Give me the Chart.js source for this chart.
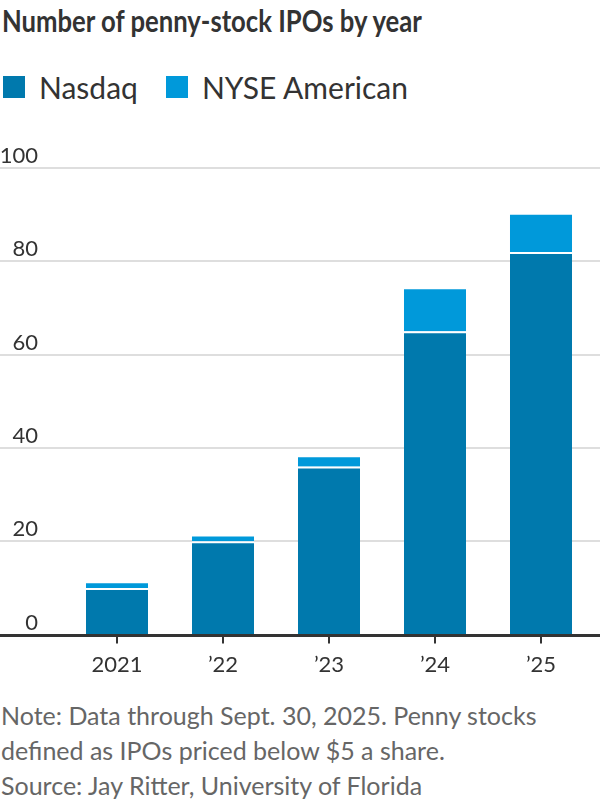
<!DOCTYPE html>
<html>
<head>
<meta charset="utf-8">
<script src="https://cdn.jsdelivr.net/npm/chart.js@4"></script>
<style>
  html, body { margin: 0; padding: 0; background: #fff; }
  body { width: 600px; height: 800px; position: relative; overflow: hidden; font-family: Lato, "Noto Sans", sans-serif; color: #333; }
  .title { position: absolute; left: 2px; top: 2px; font-family: Lato, "Noto Sans", sans-serif; font-weight: bold; font-size: 30px; line-height: 36px; color: #333; white-space: nowrap; transform-origin: left top; }
  .legend { position: absolute; left: 3px; top: 70px; display: flex; align-items: center; height: 34px; font-size: 30px; color: #333; }
  .legend .sw { width: 22px; height: 22px; margin-right: 14px; }
  .legend .item { display: flex; align-items: center; margin-right: 28px; }
  .chartbox { position: absolute; left: 0; top: 120px; width: 600px; height: 568px; }
  .note { position: absolute; left: 1px; top: 698px; font-size: 25px; line-height: 35px; color: #666; }
</style>
</head>
<body>
<div class="title" id="title">Number of penny-stock IPOs by year</div>
<div class="legend">
  <div class="item"><span class="sw" style="background:#0079ad"></span>Nasdaq</div>
  <div class="item"><span class="sw" style="background:#0099da"></span>NYSE American</div>
</div>
<div class="chartbox"><canvas id="ipoChart" width="600" height="568"></canvas></div>
<div class="note">Note: Data through Sept. 30, 2025. Penny stocks<br>defined as IPOs priced below $5 a share.<br>Source: Jay Ritter, University of Florida</div>

<script>
// Chart data
const years = ['2021', '\u201922', '\u201923', '\u201924', '\u201925'];
const nasdaq = [10, 20, 36, 65, 82];
const nyseAmerican = [1, 1, 2, 9, 8];
const yTicks = [0, 20, 40, 60, 80, 100];

// the original headline face is condensed, squeeze Lato bold to the same width
const titleEl = document.getElementById('title');
titleEl.style.transform = 'scaleX(' + (420 / titleEl.offsetWidth) + ')';

// gridlines and y labels run across the full width, like the original
const fullWidthGrid = {
    id: 'fullWidthGrid',
    beforeDatasetsDraw(chart) {
        const { ctx, scales: { y } } = chart;
        ctx.save();
        yTicks.forEach(v => {
            const py = Math.round(y.getPixelForValue(v));
            if (v !== 0) {
                ctx.strokeStyle = '#dedede';
                ctx.lineWidth = 2;
                ctx.beginPath();
                ctx.moveTo(0, py);
                ctx.lineTo(chart.width, py);
                ctx.stroke();
            }
            ctx.fillStyle = '#333';
            ctx.font = '22px Lato, "Noto Sans", sans-serif';
            ctx.textAlign = 'right';
            ctx.textBaseline = 'alphabetic';
            ctx.fillText(String(v), 38, py - 5);
        });
        ctx.restore();
    },
    afterDatasetsDraw(chart) {
        const { ctx, scales: { y } } = chart;
        const py = Math.round(y.getPixelForValue(0));
        ctx.save();
        ctx.strokeStyle = '#333';
        ctx.lineWidth = 3;
        ctx.beginPath();
        ctx.moveTo(0, py + 0.5);
        ctx.lineTo(chart.width, py + 0.5);
        ctx.stroke();
        ctx.restore();
    }
};

new Chart(document.getElementById('ipoChart').getContext('2d'), {
    type: 'bar',
    data: {
        labels: years,
        datasets: [
            {
                label: 'Nasdaq',
                data: nasdaq,
                backgroundColor: '#0079ad',
                borderColor: '#ffffff',
                borderWidth: { top: 2, left: 0, right: 0, bottom: 0 },
                barPercentage: 0.585,
                categoryPercentage: 1
            },
            {
                label: 'NYSE American',
                data: nyseAmerican,
                backgroundColor: '#0099da',
                borderWidth: 0,
                barPercentage: 0.585,
                categoryPercentage: 1
            }
        ]
    },
    options: {
        responsive: false,
        animation: false,
        layout: { padding: { top: 48, left: 64, right: 6, bottom: 2 } },
        plugins: { legend: { display: false }, tooltip: { enabled: false } },
        scales: {
            x: {
                stacked: true,
                border: { display: false },
                grid: { display: true, drawOnChartArea: false, drawTicks: true, tickLength: 9, color: '#333', lineWidth: 2, offset: false },
                ticks: { color: '#333', padding: 8, font: { family: 'Lato, "Noto Sans", sans-serif', size: 22 } }
            },
            y: {
                stacked: true,
                display: false,
                min: 0,
                max: 100,
                ticks: { stepSize: 20 }
            }
        }
    },
    plugins: [fullWidthGrid]
});
</script>
</body>
</html>
